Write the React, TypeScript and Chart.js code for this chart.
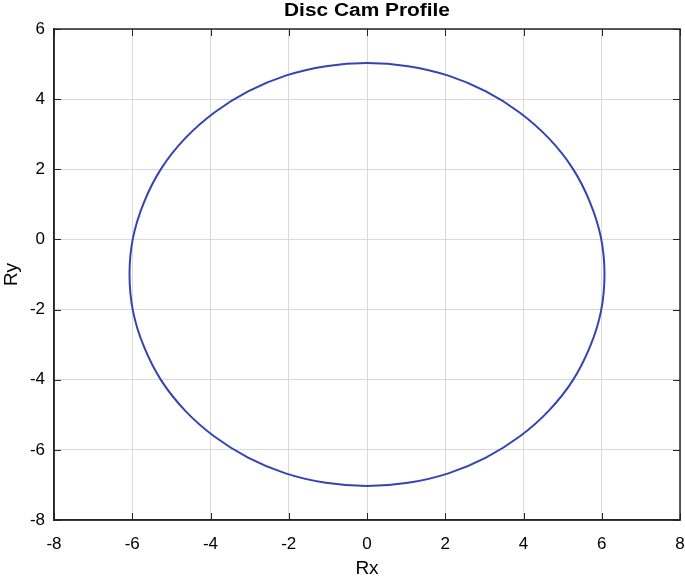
import React, { useEffect, useRef } from "react";
import { Chart, registerables } from "chart.js";

Chart.register(...registerables);

// Cam profile points, counter-clockwise from the right-most point
const rx: number[] = [
  6.07, 5.98, 5.70, 5.26, 4.65, 3.90, 3.04, 2.08, 1.05, 0.0,
  -1.05, -2.08, -3.04, -3.90, -4.65, -5.26, -5.70, -5.98, -6.07,
  -5.98, -5.70, -5.26, -4.65, -3.90, -3.04, -2.08, -1.05, 0.0,
  1.05, 2.08, 3.04, 3.90, 4.65, 5.26, 5.70, 5.98,
];
const ry: number[] = [
  -1.0, 0.05, 1.06, 2.02, 2.88, 3.62, 4.22, 4.67, 4.94, 5.03,
  4.94, 4.67, 4.22, 3.62, 2.88, 2.02, 1.06, 0.05, -1.0,
  -2.05, -3.06, -4.02, -4.88, -5.62, -6.22, -6.67, -6.94, -7.03,
  -6.94, -6.67, -6.22, -5.62, -4.88, -4.02, -3.06, -2.05,
];

const xTicks: number[] = [-8, -6, -4, -2, 0, 2, 4, 6, 8];
const yTicks: number[] = [-8, -6, -4, -2, 0, 2, 4, 6];

const titleText = "Disc Cam Profile";
const xLabel = "Rx";
const yLabel = "Ry";

const FONT = '"Liberation Sans", Arial, Helvetica, sans-serif';
const DARK = "#262626";

// make the profile a closed, smooth loop
const loopPlugin = {
  id: "closedLoop",
  afterDatasetUpdate(chart: any, args: any) {
    const meta = chart.getDatasetMeta(args.index);
    if (meta && meta.dataset) {
      meta.dataset._loop = true;
      meta.dataset._fullLoop = true;
      meta.dataset._pointsUpdated = false;
    }
  },
};

const framePlugin = {
  id: "frameAndTitle",
  afterDraw(chart: any) {
    const { ctx, chartArea, scales } = chart;
    const { left, right, top, bottom } = chartArea;
    ctx.save();
    // inward ticks
    ctx.strokeStyle = DARK;
    ctx.lineWidth = 1;
    const tl = 7;
    ctx.beginPath();
    xTicks.forEach((v) => {
      const px = Math.round(scales.x.getPixelForValue(v)) + 0.5;
      ctx.moveTo(px, bottom);
      ctx.lineTo(px, bottom - tl);
      ctx.moveTo(px, top);
      ctx.lineTo(px, top + tl);
    });
    yTicks.forEach((v) => {
      const py = Math.round(scales.y.getPixelForValue(v)) + 0.5;
      ctx.moveTo(left, py);
      ctx.lineTo(left + tl, py);
      ctx.moveTo(right, py);
      ctx.lineTo(right - tl, py);
    });
    ctx.stroke();
    // box
    ctx.lineWidth = 1.5;
    ctx.strokeRect(left, top, right - left, bottom - top);
    // title
    ctx.fillStyle = "#000";
    ctx.font = "bold 18px " + FONT;
    ctx.textAlign = "center";
    ctx.textBaseline = "middle";
    ctx.translate((left + right) / 2, 11);
    ctx.scale(1.16, 1);
    ctx.fillText(titleText, 0, 0);
    ctx.restore();
  },
};

export default function App() {
  const ref = useRef<HTMLCanvasElement | null>(null);

  useEffect(() => {
    if (!ref.current) return;
    const data = rx.map((x, i) => ({ x, y: ry[i] }));
    const chart = new Chart(ref.current, {
      type: "scatter",
      data: {
        datasets: [
          {
            data,
            showLine: true,
            borderColor: "rgb(52,68,178)",
            borderWidth: 2,
            pointRadius: 0,
            tension: 0.35,
            fill: false,
          },
        ],
      },
      options: {
        responsive: false,
        animation: false,
        events: [],
        layout: { padding: { top: 29, right: 5, left: 0, bottom: 0 } },
        plugins: {
          legend: { display: false },
          tooltip: { enabled: false },
          title: { display: false },
        },
        scales: {
          x: {
            type: "linear",
            min: -8,
            max: 8,
            afterBuildTicks: (s: any) => {
              s.ticks = xTicks.map((v) => ({ value: v }));
            },
            afterFit: (s: any) => {
              s.height = 60;
              s.paddingLeft = 0;
              s.paddingRight = 0;
            },
            ticks: {
              color: "#000",
              font: { family: FONT, size: 17 },
              padding: 14,
              maxRotation: 0,
              autoSkip: false,
            },
            grid: { color: "#d9d9d9", lineWidth: 1, drawTicks: false },
            border: { color: DARK, width: 1.5 },
            title: {
              display: true,
              text: xLabel,
              color: "#000",
              font: { family: FONT, size: 19 },
              padding: { top: 0, bottom: 0 },
            },
          },
          y: {
            type: "linear",
            min: -8,
            max: 6,
            afterBuildTicks: (s: any) => {
              s.ticks = yTicks.map((v) => ({ value: v }));
            },
            afterFit: (s: any) => {
              s.width = 54;
              s.paddingTop = 0;
              s.paddingBottom = 0;
            },
            ticks: {
              color: "#000",
              font: { family: FONT, size: 17 },
              padding: 9,
              autoSkip: false,
            },
            grid: { color: "#d9d9d9", lineWidth: 1, drawTicks: false },
            border: { color: DARK, width: 1.5 },
            title: {
              display: true,
              text: yLabel,
              color: "#000",
              font: { family: FONT, size: 19 },
              padding: { top: 0, bottom: 0 },
            },
          },
        },
      },
      plugins: [loopPlugin, framePlugin],
    });
    return () => chart.destroy();
  }, []);

  return (
    <div style={{ position: "absolute", left: 0, top: 0, width: 685, height: 580, background: "#fff" }}>
      <canvas ref={ref} width={685} height={580} style={{ display: "block" }} />
    </div>
  );
}
